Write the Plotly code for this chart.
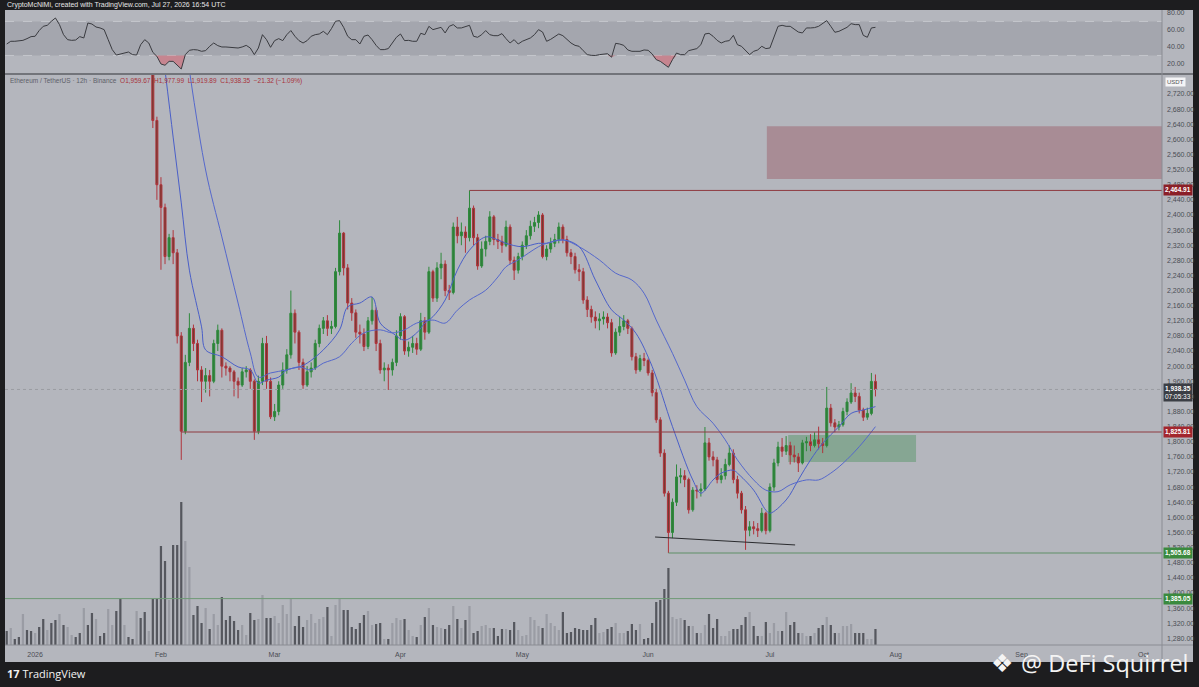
import numpy as np
import pandas as pd
import plotly.graph_objects as go

#%% data (one bar per day)
candle_start = '2026-01-30'
first_open = 2850
closes = [2650, 2480,
          # Feb
          2420, 2290, 2340, 2300, 2080, 1828, 2010, 2100, 2060, 1990, 1960, 1975, 1960, 2060, 2095, 2000,
          1995, 1985, 1960, 1950, 1985, 1990, 1960, 1828, 1960, 2060, 1960, 1866,
          # Mar
          1880, 1950, 1990, 2030, 2140, 2090, 2010, 1950, 1985, 1995, 2060, 2100, 2120, 2100, 2105, 2250,
          2352, 2260, 2167, 2141, 2090, 2085, 2052, 2120, 2148, 2060, 1990, 1995, 1990, 2010, 2080,
          # Apr
          2131, 2040, 2050, 2060, 2045, 2120, 2090, 2250, 2180, 2260, 2270, 2200, 2195, 2368, 2345,
          2355, 2340, 2418, 2340, 2265, 2310, 2330, 2395, 2335, 2330, 2320, 2368, 2280, 2254, 2290,
          # May
          2320, 2345, 2370, 2380, 2400, 2290, 2310, 2325, 2335, 2368, 2335, 2300, 2290, 2255, 2250, 2175,
          2150, 2130, 2120, 2125, 2130, 2115, 2035, 2090, 2105, 2120, 2100, 2025, 1990, 2020, 2015,
          # Jun
          1982, 1930, 1858, 1770, 1664, 1560, 1640, 1707, 1710, 1700, 1620, 1672, 1670, 1675, 1797,
          1760, 1752, 1700, 1710, 1740, 1770, 1700, 1664, 1620, 1566, 1575, 1570, 1565, 1611, 1565,
          # Jul
          1680, 1744, 1786, 1775, 1790, 1765, 1760, 1744, 1797, 1800, 1790, 1805, 1795, 1790, 1889,
          1850, 1839, 1845, 1880, 1905, 1929, 1920, 1884, 1865, 1875, 1959.67, 1938.35]
highs = [2880, 2660,
         2500, 2430, 2350, 2360, 2310, 2090, 2030, 2140, 2110, 2070, 2000, 1995, 1990, 2070, 2110, 2100,
         2010, 2000, 1990, 1970, 1995, 2000, 1995, 1965, 1975, 2075, 2080, 1970,
         1900, 1960, 2010, 2045, 2200, 2150, 2095, 2020, 2000, 2010, 2070, 2110, 2130, 2135, 2120, 2260,
         2386, 2355, 2270, 2180, 2150, 2110, 2100, 2130, 2183, 2155, 2070, 2010, 2005, 2020, 2095,
         2140, 2135, 2065, 2080, 2075, 2141, 2130, 2263, 2255, 2275, 2300, 2280, 2215, 2380, 2395,
         2380, 2370, 2464.91, 2425, 2350, 2330, 2345, 2410, 2400, 2350, 2345, 2385, 2375, 2290, 2300,
         2330, 2360, 2385, 2395, 2410, 2405, 2320, 2340, 2350, 2380, 2375, 2345, 2310, 2300, 2270, 2260,
         2185, 2160, 2145, 2140, 2145, 2140, 2125, 2100, 2130, 2135, 2125, 2105, 2035, 2030, 2035,
         2020, 1990, 1940, 1865, 1780, 1670, 1650, 1740, 1730, 1725, 1705, 1680, 1685, 1690, 1839,
         1810, 1775, 1760, 1730, 1755, 1790, 1780, 1710, 1670, 1630, 1590, 1590, 1585, 1625, 1615,
         1690, 1755, 1800, 1810, 1815, 1800, 1790, 1770, 1805, 1813, 1820, 1825, 1840, 1810, 1945,
         1900, 1860, 1855, 1890, 1915, 1955, 1945, 1930, 1890, 1890, 1982, 1977.99]
lows = [2630, 2440,
        2255, 2270, 2280, 2270, 2060, 1752, 1820, 2000, 2040, 1960, 1905, 1930, 1920, 1955, 2040, 1970,
        1975, 1960, 1920, 1915, 1945, 1970, 1940, 1805, 1820, 1950, 1940, 1860,
        1855, 1870, 1940, 1980, 2020, 2060, 1990, 1940, 1945, 1970, 1990, 2050, 2085, 2080, 2085, 2100,
        2240, 2240, 2150, 2120, 2075, 2060, 2040, 2045, 2110, 2040, 1980, 1960, 1937, 1975, 2000,
        2070, 2030, 2025, 2035, 2030, 2040, 2070, 2085, 2170, 2170, 2230, 2185, 2175, 2190, 2325,
        2320, 2300, 2330, 2320, 2255, 2260, 2290, 2320, 2320, 2310, 2300, 2315, 2270, 2228, 2245,
        2280, 2310, 2335, 2355, 2365, 2285, 2280, 2300, 2315, 2325, 2325, 2290, 2270, 2245, 2225, 2165,
        2130, 2115, 2100, 2095, 2110, 2100, 2025, 2030, 2080, 2095, 2085, 2015, 1980, 1985, 2000,
        1975, 1920, 1850, 1760, 1655, 1505.68, 1545, 1630, 1690, 1680, 1610, 1615, 1650, 1655, 1670,
        1750, 1735, 1690, 1690, 1700, 1735, 1690, 1650, 1610, 1514, 1550, 1555, 1548, 1560, 1555,
        1560, 1670, 1735, 1760, 1765, 1740, 1745, 1720, 1740, 1775, 1775, 1785, 1780, 1770, 1785,
        1840, 1825, 1830, 1840, 1870, 1900, 1905, 1875, 1855, 1858, 1870, 1919.89]

vol_start = '2025-12-25'
volume = [14, 17, 6, 8, 31, 15, 14,
          12, 18, 26, 15, 22, 25, 31, 20, 18, 10, 8, 12, 37, 20, 32, 26, 9, 12, 36, 20,
          34, 46, 20, 8, 6, 34, 27, 33, 14, 46, 46,
          99, 84, 45, 100, 100, 143, 104, 78, 30, 39, 22, 37, 16, 31, 20, 48, 25, 29, 24, 15,
          20, 10, 32, 25, 26, 50, 27, 27,
          29, 22, 40, 31, 46, 19, 29, 18, 25, 31, 22, 26, 28, 38, 9, 40, 46, 35, 35, 18,
          16, 22, 30, 34, 20, 21, 22, 6, 6, 22, 27,
          25, 26, 15, 9, 8, 20, 28, 37, 20, 18, 17, 16, 20, 39, 26, 17, 25, 39, 12, 14,
          19, 20, 17, 17, 9, 16, 16, 15, 23, 15,
          9, 10, 28, 25, 19, 17, 31, 22, 19, 15, 33, 12, 13, 17, 16, 15, 15, 20, 27, 12,
          13, 16, 18, 22, 12, 12, 14, 21, 15, 21, 6,
          7, 22, 43, 45, 56, 77, 28, 26, 27, 25, 19, 19, 12, 12, 20, 31, 17, 26, 9, 9,
          14, 16, 16, 20, 28, 33, 19, 9, 9, 23,
          12, 22, 14, 14, 33, 20, 23, 12, 12, 9, 9, 12, 17, 20, 28, 20, 12, 12, 19, 19,
          21, 12, 12, 12, 6, 6, 16]
# bar shade before the first visible candle (d = down/dark, u = up/light)
early_dirs = "duddudduddudduduudduddudduuddudduddu"

rsi = [43.5, 46.7, 46.7, 47, 47.8, 49.8, 52.2,
       52.6, 59.3, 64.3, 65.5, 70.2, 74.1, 66.3, 54.5, 48.6, 47.8, 48.2, 52.2, 50.6, 68.2,
       67, 63.5, 62.4, 60.4, 48.6, 36.9, 30.5, 31.8, 32.9, 34.1, 31, 30.5, 42.7, 48.6, 44.7,
       33.7, 29,
       20, 18.5, 23.1, 23.1, 18.5, 14.1, 31, 36.1, 36.9, 36.5, 34.9, 35.7, 40.8, 44.7, 41.6, 40,
       40, 39.6, 39.6, 38.8, 40, 41.9, 38.8, 31, 38.8, 54.5, 48.6, 39.6,
       47.5, 49.8, 47.5, 54.5, 59.3, 52.6, 47.5, 44.7, 47.5, 52.6, 54.5, 55.3, 58.4, 54.5, 61.6,
       70.2, 71, 63.1, 52.6, 48.6, 48.6, 43.5, 52.6, 54.1, 48.6, 41.9, 36.9, 36.9, 38.1, 44.7, 51.4,
       55.3, 47.5, 47.8, 46.7, 46.7, 56.1, 54.5, 64.3, 60.4, 61.6, 63.1, 56.5, 64.3, 66.3, 62.4,
       62.4, 63.5, 65.5, 52.6, 51.4, 54.5, 59.3, 54.5, 53.3, 53.3, 55.7, 49.8, 44.7, 48.6, 43.5,
       46.7, 48.6, 50.6, 54.5, 60.4, 57.6, 46.7, 49, 51.8, 55.3, 53.3, 48.6, 44.7, 41.9, 40.8,
       35.7, 31, 30.2, 30, 31, 31.8, 32.1, 28, 44.3, 43.5, 41.9, 36.5, 34.9, 34.9, 34.9, 36.5,
       36.1, 31.8, 25.1, 23.1, 20, 16.1, 25.1, 32.9, 31, 31, 35.7, 36.9, 38.1, 42.7, 55.3,
       56.1, 52.6, 47.8, 44.7, 46.7, 47.5, 53.7, 42.7, 40.8, 35.7, 31, 34.9, 36.5, 40.8, 38.1,
       38.8, 52.6, 64.3, 65.5, 64.3, 64.3, 61.2, 57.6, 56.5, 62.4, 62.4, 62.8, 64.3, 68.2, 71,
       64.3, 57.3, 58.4, 60.4, 63.1, 67.4, 66.3, 66.3, 53.7, 51.4, 62.4, 63.1]

fast_ma_dates = ['2026-02-02', '2026-02-04', '2026-02-06', '2026-02-08', '2026-02-11', '2026-02-12',
                 '2026-02-16', '2026-02-20', '2026-02-23', '2026-02-25', '2026-02-27',
                 '2026-03-02', '2026-03-04', '2026-03-07', '2026-03-09', '2026-03-13', '2026-03-17',
                 '2026-03-19', '2026-03-22', '2026-03-25', '2026-03-27', '2026-03-30',
                 '2026-04-02', '2026-04-05', '2026-04-07', '2026-04-09', '2026-04-12', '2026-04-15',
                 '2026-04-18', '2026-04-22', '2026-04-25', '2026-04-27',
                 '2026-05-01', '2026-05-05', '2026-05-07', '2026-05-11', '2026-05-15', '2026-05-19',
                 '2026-05-23', '2026-05-26', '2026-05-29',
                 '2026-06-02', '2026-06-07', '2026-06-12', '2026-06-14', '2026-06-17', '2026-06-19',
                 '2026-06-22', '2026-06-23', '2026-06-27', '2026-06-30',
                 '2026-07-01', '2026-07-05', '2026-07-08', '2026-07-11', '2026-07-14', '2026-07-18',
                 '2026-07-21', '2026-07-24', '2026-07-27']
fast_ma = [2783, 2606, 2432, 2254, 2104, 2043, 2025, 1998, 1990, 1955, 1963,
           1971, 1990, 1998, 2008, 2043, 2096, 2157, 2167, 2183, 2114, 2088,
           2069, 2088, 2114, 2131, 2175, 2254, 2307, 2342, 2334, 2325,
           2316, 2325, 2325, 2334, 2316, 2228, 2149, 2122, 2087,
           1999, 1840, 1699, 1664, 1699, 1717, 1725, 1717, 1672, 1619,
           1611, 1646, 1699, 1752, 1796, 1840, 1875, 1884, 1893]
slow_ma_dates = ['2026-02-08', '2026-02-12', '2026-02-16', '2026-02-20', '2026-02-23', '2026-02-25',
                 '2026-02-28',
                 '2026-03-04', '2026-03-07', '2026-03-10', '2026-03-13', '2026-03-17', '2026-03-20',
                 '2026-03-23', '2026-03-27', '2026-03-30',
                 '2026-04-02', '2026-04-05', '2026-04-09', '2026-04-12', '2026-04-15', '2026-04-18',
                 '2026-04-22', '2026-04-25', '2026-04-27', '2026-04-30',
                 '2026-05-05', '2026-05-07', '2026-05-11', '2026-05-15', '2026-05-20', '2026-05-24',
                 '2026-05-28', '2026-05-31',
                 '2026-06-03', '2026-06-07', '2026-06-10', '2026-06-13', '2026-06-17', '2026-06-20',
                 '2026-06-23', '2026-06-27', '2026-06-30',
                 '2026-07-03', '2026-07-06', '2026-07-10', '2026-07-13', '2026-07-16', '2026-07-19',
                 '2026-07-23', '2026-07-27']
slow_ma = [2783, 2519, 2342, 2167, 2035, 1971, 1982,
           1990, 1998, 1990, 2008, 2025, 2061, 2088, 2096, 2088,
           2096, 2114, 2122, 2114, 2148, 2175, 2201, 2236, 2263, 2281,
           2316, 2325, 2334, 2316, 2281, 2246, 2228, 2193,
           2122, 2034, 1963, 1893, 1849, 1805, 1752, 1699, 1672,
           1668, 1686, 1699, 1699, 1717, 1743, 1787, 1840]

month_ticks = ['2026-01-01', '2026-02-01', '2026-03-01', '2026-04-01', '2026-05-01',
               '2026-06-01', '2026-07-01', '2026-08-01', '2026-09-01', '2026-10-01']
month_labels = ['2026', 'Feb', 'Mar', 'Apr', 'May', 'Jun', 'Jul', 'Aug', 'Sep', 'Oct']
price_ticks = list(range(1280, 2721, 40))
rsi_ticks = [20, 40, 60, 80]

last_price = 1938.35
resistance = 2464.91
support = 1825.81
low_1 = 1505.68
low_2 = 1385.05
supply_zone = [2495, 2635]
demand_zone = [1746.5, 1818]

#%% derived
candle_dates = pd.date_range(candle_start, periods=len(closes), freq='D')
opens = [first_open] + closes[:-1]
vol_dates = pd.date_range(vol_start, periods=len(volume), freq='D')
vol_down = [c == 'd' for c in early_dirs] + [c < o for c, o in zip(closes, opens)]
vol_colors = ['#55575e' if d else '#9a9ca4' for d in vol_down]

XR = ['2025-12-24 14:00', '2026-10-05 14:00']
BG = '#b4b6bd'
FRAME = '#1d1d1f'
tickfont = dict(family='Liberation Sans', size=7, color='#4b4d54')

def px_x(px):
    return (px - 5) / 1157

def px_y(py):
    return (645 - py) / 635

#%%
fig = go.Figure()

# RSI pane
fig.add_trace(go.Scatter(x=vol_dates, y=[30] * len(rsi), yaxis='y', mode='lines',
                         line=dict(width=0), hoverinfo='skip', showlegend=False))
fig.add_trace(go.Scatter(x=vol_dates, y=np.minimum(rsi, 30), yaxis='y', mode='lines',
                         line=dict(width=0), fill='tonexty', fillcolor='rgba(214,92,108,0.55)',
                         hoverinfo='skip', showlegend=False))
fig.add_trace(go.Scatter(x=vol_dates, y=rsi, yaxis='y', mode='lines',
                         line=dict(color='#3a3b40', width=1), name='RSI', showlegend=False))

# volume
fig.add_trace(go.Bar(x=vol_dates, y=volume, yaxis='y3', marker=dict(color=vol_colors, line=dict(width=0)),
                     name='Volume', showlegend=False))

# candles and moving averages
fig.add_trace(go.Candlestick(x=candle_dates, open=opens, high=highs, low=lows, close=closes,
                             yaxis='y2', name='ETHUSDT', showlegend=False, whiskerwidth=0,
                             increasing=dict(line=dict(color='#2e8a3c', width=1), fillcolor='#2f7d3a'),
                             decreasing=dict(line=dict(color='#b0343c', width=1), fillcolor='#6f3a30')))
fig.add_trace(go.Scatter(x=fast_ma_dates, y=fast_ma, yaxis='y2', mode='lines', line_shape='spline',
                         line=dict(color='#4a5fc8', width=1), showlegend=False))
fig.add_trace(go.Scatter(x=slow_ma_dates, y=slow_ma, yaxis='y2', mode='lines', line_shape='spline',
                         line=dict(color='#5568cc', width=1), showlegend=False))

shapes = [
    # chart panel background incl. axis strips
    dict(type='rect', xref='paper', yref='paper', x0=0, x1=px_x(1193), y0=px_y(662), y1=1,
         fillcolor=BG, line_width=0, layer='below'),
    # RSI band
    dict(type='rect', xref='paper', yref='y', x0=0, x1=1, y0=30, y1=70,
         fillcolor='#a4a6ae', line_width=0, layer='below'),
    dict(type='line', xref='paper', yref='y', x0=0, x1=1, y0=70, y1=70,
         line=dict(color='#c4c6cc', width=1, dash='dash'), layer='below'),
    dict(type='line', xref='paper', yref='y', x0=0, x1=1, y0=30, y1=30,
         line=dict(color='#c4c6cc', width=1, dash='dash'), layer='below'),
    # zones
    dict(type='rect', xref='x', yref='y2', x0='2026-06-30 06:00', x1=XR[1],
         y0=supply_zone[0], y1=supply_zone[1], fillcolor='rgba(150,70,85,0.38)', line_width=0, layer='below'),
    dict(type='rect', xref='x', yref='y2', x0='2026-07-05 12:00', x1='2026-08-06',
         y0=demand_zone[0], y1=demand_zone[1], fillcolor='rgba(60,140,80,0.38)', line_width=0, layer='below'),
    # levels
    dict(type='line', xref='x', yref='y2', x0='2026-04-18', x1=XR[1], y0=resistance, y1=resistance,
         line=dict(color='#8e3a40', width=1)),
    dict(type='line', xref='x', yref='y2', x0='2026-02-06', x1=XR[1], y0=support, y1=support,
         line=dict(color='#8e3a40', width=1)),
    dict(type='line', xref='x', yref='y2', x0=XR[0], x1=XR[1], y0=last_price, y1=last_price,
         line=dict(color='#9a9ca3', width=1, dash='dot')),
    dict(type='line', xref='x', yref='y2', x0='2026-06-06', x1=XR[1], y0=low_1, y1=low_1,
         line=dict(color='#5f8f66', width=1)),
    dict(type='line', xref='x', yref='y2', x0=XR[0], x1=XR[1], y0=low_2, y1=low_2,
         line=dict(color='#6f9a76', width=1)),
    dict(type='line', xref='x', yref='y2', x0='2026-06-02 17:00', x1='2026-07-07 05:00', y0=1548, y1=1527,
         line=dict(color='#2a2b2e', width=1)),
    # pane separators
    dict(type='line', xref='paper', yref='paper', x0=0, x1=px_x(1193), y0=px_y(74), y1=px_y(74),
         line=dict(color='#5c5e64', width=1.5)),
    dict(type='line', xref='paper', yref='paper', x0=1, x1=1, y0=px_y(662), y1=1,
         line=dict(color='#8a8c93', width=1)),
    dict(type='line', xref='paper', yref='paper', x0=0, x1=px_x(1193), y0=0, y1=0,
         line=dict(color='#8a8c93', width=1)),
]

annotations = [
    dict(xref='paper', yref='paper', x=0, y=px_y(5), xanchor='left', yanchor='middle', showarrow=False,
         text='CryptoMcNiMi, created with TradingView.com, Jul 27, 2026 16:54 UTC',
         font=dict(family='Liberation Sans', size=7, color='#e6e6e6')),
    dict(xref='paper', yref='paper', x=px_x(8), y=px_y(81), xanchor='left', yanchor='middle', showarrow=False,
         text="<span style='color:#5d6068'>Ethereum / TetherUS · 12h · Binance</span>  "
              "<span style='color:#a8323b'>O1,959.67  H1,977.99  L1,919.89  C1,938.35  −21.32 (−1.09%)</span>",
         font=dict(family='Liberation Sans', size=6.5)),
    dict(xref='paper', yref='paper', x=0, y=px_y(673), xanchor='left', yanchor='middle', showarrow=False,
         text='<b>17</b> TradingView', font=dict(family='Open Sans', size=11, color='#f2f2f2')),
    dict(xref='paper', yref='paper', x=px_x(1002), y=px_y(663), xanchor='center', yanchor='middle',
         showarrow=False, text='❖', font=dict(family='DejaVu Sans', size=25, color='#f4f4f4')),
    dict(xref='paper', yref='paper', x=px_x(1019), y=px_y(663), xanchor='left', yanchor='middle',
         showarrow=False, text='@ DeFi Squirrel', font=dict(family='Open Sans', size=23.5, color='#f4f4f4')),
    dict(xref='paper', yref='y2', x=1, y=2751, xanchor='left', yanchor='middle', xshift=3, showarrow=False,
         text='USDT', bgcolor='#f4f4f6', borderpad=1,
         font=dict(family='Liberation Sans', size=6, color='#555')),
]

# price tags on the right scale
tags = [(resistance, '2,464.91', '#8b1f27'), (support, '1,825.81', '#a3262e'),
        (low_1, '1,505.68', '#3a8a3e'), (low_2, '1,385.05', '#3a8a3e')]
for price, label, col in tags:
    annotations.append(dict(xref='paper', yref='y2', x=1, y=price, xanchor='left', yanchor='middle',
                            xshift=1, showarrow=False, text='<b>' + label + '</b>', bgcolor=col,
                            borderpad=1, font=dict(family='Liberation Sans', size=6.5, color='white')))
annotations.append(dict(xref='paper', yref='y2', x=1, y=last_price, xanchor='left', yanchor='top',
                        yshift=6, xshift=1, showarrow=False, text='<b>1,938.35</b><br>07:05:33',
                        bgcolor='#3b3e45', borderpad=1,
                        font=dict(family='Liberation Sans', size=6.5, color='white')))

fig.update_layout(
    width=1199, height=687,
    margin=dict(l=5, r=37, t=10, b=42),
    paper_bgcolor=FRAME, plot_bgcolor=BG,
    showlegend=False, bargap=0.45, hovermode=False,
    xaxis=dict(type='date', range=XR, anchor='y2', tickvals=month_ticks, ticktext=month_labels,
               showgrid=False, zeroline=False, showline=False, ticks='', tickfont=tickfont,
               ticklabelstandoff=4, rangeslider=dict(visible=False), fixedrange=True),
    yaxis=dict(domain=[px_y(73), 1], range=[9.4, 83.5], side='right', tickvals=rsi_ticks,
               ticktext=['%.2f' % v for v in rsi_ticks], showgrid=False, zeroline=False, ticks='',
               tickfont=tickfont, ticklabelstandoff=4, automargin=False, anchor='x'),
    yaxis2=dict(domain=[0, px_y(75)], range=[1262.3, 2770.3], side='right', tickvals=price_ticks,
                tickformat=',.2f', showgrid=False, zeroline=False, ticks='', tickfont=tickfont,
                ticklabelstandoff=4, automargin=False, anchor='x'),
    yaxis3=dict(overlaying='y2', range=[0, 570], visible=False, showgrid=False),
    shapes=shapes, annotations=annotations,
)

# drop the default page margin so the figure sits at the window's corner
fig.write_html("out.html", config={'displayModeBar': False},
               post_script="document.body.style.margin='0';document.body.style.background='#1d1d1f';")
